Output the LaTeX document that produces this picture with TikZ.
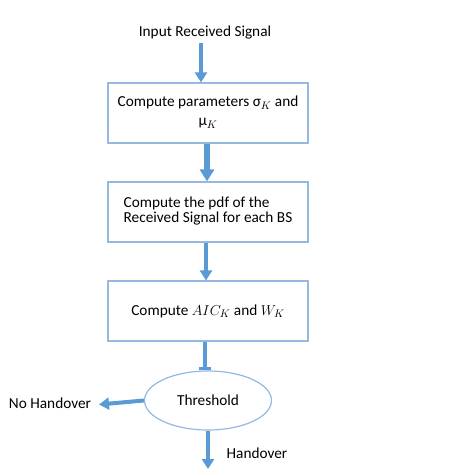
\documentclass[tikz,border=0pt]{standalone}
\usepackage{fontspec}
\setmainfont{Carlito}
\usetikzlibrary{arrows.meta,shapes.geometric}
\definecolor{arrowblue}{HTML}{5B9BD5}
\definecolor{boxblue}{HTML}{95B9E0}
\tikzset{
  x=1pt, y=-1pt,
  txt/.style={font=\fontsize{15.3}{15}\selectfont},
  box/.style={txt, draw=boxblue, line width=1.2pt, minimum width=200pt, minimum height=60pt, inner sep=0pt},
  lbl/.style={txt, inner sep=0pt},
  arr/.style={draw=arrowblue, line width=4pt, -{Triangle[width=12pt,length=10pt]}},
  arrthick/.style={draw=arrowblue, line width=6.5pt, -{Triangle[width=14pt,length=12pt]}},
}
\begin{document}
\begin{tikzpicture}
\useasboundingbox (0,0) rectangle (474,474);
\fill[white] (0,0) rectangle (474,474);
\node[lbl] (in) at (205,33) {Input Received Signal};
\node[box] (b1) at (208,113) {\begin{tabular}{@{}c@{}}Compute parameters σ$_K$ and\\[4pt] μ$_K$\end{tabular}};
\node[box] (b2) at (208,212) {\begin{tabular}{@{}l@{}}Compute the pdf of the\\ Received Signal for each BS\end{tabular}};
\node[box] (b3) at (208,311) {Compute $AIC_K$ and $W_K$};
\node[ellipse, draw=boxblue, line width=1.2pt, minimum width=127pt, minimum height=59pt, inner sep=0pt, txt] (th) at (208,400.5) {Threshold};
\node[lbl] (no) at (50,403) {No Handover};
\node[lbl] (ho) at (257,453) {Handover};
\coordinate (inend) at (201,43);
\coordinate (noend) at (99,404.5);
\coordinate (hoend) at (208,469);
\draw[arr] (inend) -- ([xshift=-7pt]b1.north);
\draw[arrthick] ([xshift=-1pt]b1.south) -- ([xshift=-1pt]b2.north);
\draw[arr] ([xshift=-2pt]b2.south) -- ([xshift=-2pt]b3.north);
\draw[draw=arrowblue, line width=4pt, -{Bar[width=12pt,line width=3pt]}] ([xshift=-3pt]b3.south) -- ([xshift=-3pt]th.north);
\draw[arr] (th.west) -- (noend);
\draw[arr] (th.south) -- (hoend);
\end{tikzpicture}
\end{document}
